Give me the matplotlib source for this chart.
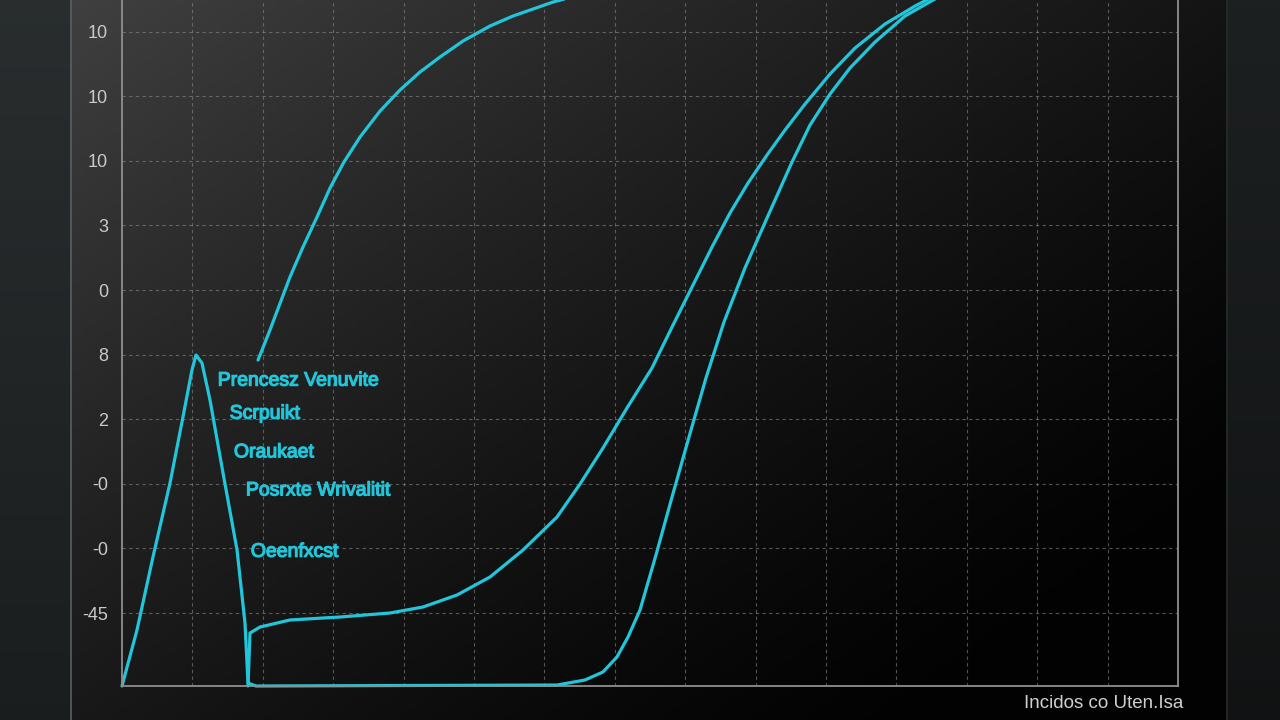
import numpy as np
import matplotlib
matplotlib.use("Agg")
import matplotlib.pyplot as plt
import matplotlib.patheffects as pe

# y tick labels as printed on the chart (bottom to top)
y_ticks = [1, 2, 3, 4, 5, 6, 7, 8, 9, 10]
y_labels = ["-45", "-0", "-0", "2", "8", "0", "3", "10", "10", "10"]

# line A: spike, flat floor, late steep rise
a_x = [0.000, 0.213, 0.440, 0.682, 0.866, 0.994, 1.051, 1.136, 1.250, 1.435,
       1.634, 1.747, 1.790, 1.903, 6.179, 6.577, 6.832, 7.031, 7.188, 7.358,
       7.585, 7.813, 8.054, 8.295, 8.551, 8.849, 9.162, 9.517, 9.773, 10.057,
       10.341, 10.696, 11.122, 11.520, 11.903]
a_y = [-0.130, 0.737, 1.867, 3.012, 4.034, 4.762, 4.994, 4.870, 4.297, 3.167,
       1.975, 0.845, -0.084, -0.130, -0.115, -0.037, 0.087, 0.319, 0.629, 1.046,
       1.898, 2.796, 3.724, 4.638, 5.505, 6.341, 7.115, 7.981, 8.554, 9.034,
       9.437, 9.839, 10.242, 10.489, 10.706]

# line B: step up, plateau, then rise
b_x = [1.790, 1.818, 1.960, 2.386, 3.097, 3.807, 4.276, 4.759, 5.227, 5.696,
       6.179, 6.506, 6.832, 7.173, 7.528, 7.813, 8.111, 8.381, 8.636, 8.892,
       9.162, 9.418, 9.702, 10.057, 10.412, 10.838, 11.264, 11.619]
b_y = [-0.130, 0.690, 0.783, 0.892, 0.938, 1.000, 1.093, 1.279, 1.557, 1.975,
       2.486, 2.997, 3.554, 4.173, 4.793, 5.427, 6.077, 6.666, 7.192, 7.656,
       8.090, 8.477, 8.879, 9.344, 9.746, 10.118, 10.396, 10.598]

# line C: early saturating curve
c_x = [1.932, 2.102, 2.386, 2.571, 2.770, 2.955, 3.153, 3.381, 3.665, 3.949,
       4.233, 4.517, 4.844, 5.227, 5.554, 6.122, 6.648]
c_y = [4.916, 5.381, 6.201, 6.666, 7.130, 7.579, 7.981, 8.368, 8.771, 9.096,
       9.375, 9.607, 9.855, 10.087, 10.242, 10.458, 10.613]

labels = ["Prencesz Venuvite", "Scrpuikt", "Oraukaet", "Posrxte Wrivalitit", "Oeenfxcst"]
label_x = [1.36, 1.53, 1.59, 1.76, 1.83]
label_y = [4.59, 4.08, 3.48, 2.89, 1.94]

cyan = "#22c6da"

fig = plt.figure(figsize=(12.8, 7.2), dpi=100)

# background: side strips and a diagonal gradient panel
bg = fig.add_axes([0, 0, 1, 1])
bg.set_xlim(0, 1280)
bg.set_ylim(720, 0)
bg.axis("off")
gx, gy = np.meshgrid(np.linspace(0, 1, 300), np.linspace(0, 1, 200))
t = np.clip(0.62 * gx + 0.55 * gy, 0, 1)
shade = 0.24 * (1 - t) ** 1.3 + 0.01
bg.imshow(np.dstack([shade, shade, shade]), extent=[70, 1228, 720, 0], aspect="auto")
tint = np.array([0.95, 1.05, 1.08])
left = np.linspace(0.17, 0.11, 200)[:, None, None] * np.ones((200, 2, 3)) * tint
right = np.linspace(0.12, 0.07, 200)[:, None, None] * np.ones((200, 2, 3)) * tint
bg.imshow(left, extent=[0, 70, 720, 0], aspect="auto")
bg.imshow(right, extent=[1228, 1280, 720, 0], aspect="auto")
bg.axvline(71, color="#5a5f62", lw=1.2)
bg.axvline(1227, color="#2a2d2f", lw=1.2)

ax = fig.add_axes([122 / 1280, 34 / 720, 1056 / 1280, 686 / 720])
ax.patch.set_alpha(0)
ax.set_xlim(0, 15)
ax.set_ylim(-0.13, 10.49)

for xs, ys in [(a_x, a_y), (b_x, b_y), (c_x, c_y)]:
    ax.plot(xs, ys, color=cyan, lw=2.3, clip_on=False,
            solid_joinstyle="round", solid_capstyle="round")

for s, lx, ly in zip(labels, label_x, label_y):
    ax.text(lx, ly, s, color=cyan, fontsize=14, family="Liberation Sans",
            va="center", ha="left",
            path_effects=[pe.withStroke(linewidth=0.9, foreground=cyan)])

ax.set_xticks(range(1, 15))
ax.set_xticklabels([])
ax.set_yticks(y_ticks)
ax.set_yticklabels(y_labels, color="#c8caca", fontsize=13, family="Liberation Sans")
ax.tick_params(axis="both", length=0, pad=10)
ax.grid(True, color="#8a8a8a", linestyle=(0, (3, 3)), lw=0.8, alpha=0.6)

for side in ["left", "bottom", "right"]:
    ax.spines[side].set_color("#8e9090")
    ax.spines[side].set_linewidth(1.3)
ax.spines["top"].set_visible(False)

fig.text(1183 / 1280, 1 - 704 / 720, "Incidos co Uten.Isa", color="#cfcfcf",
         fontsize=13.5, family="Liberation Sans", ha="right", va="center")

fig.savefig("out.png", dpi=100)
